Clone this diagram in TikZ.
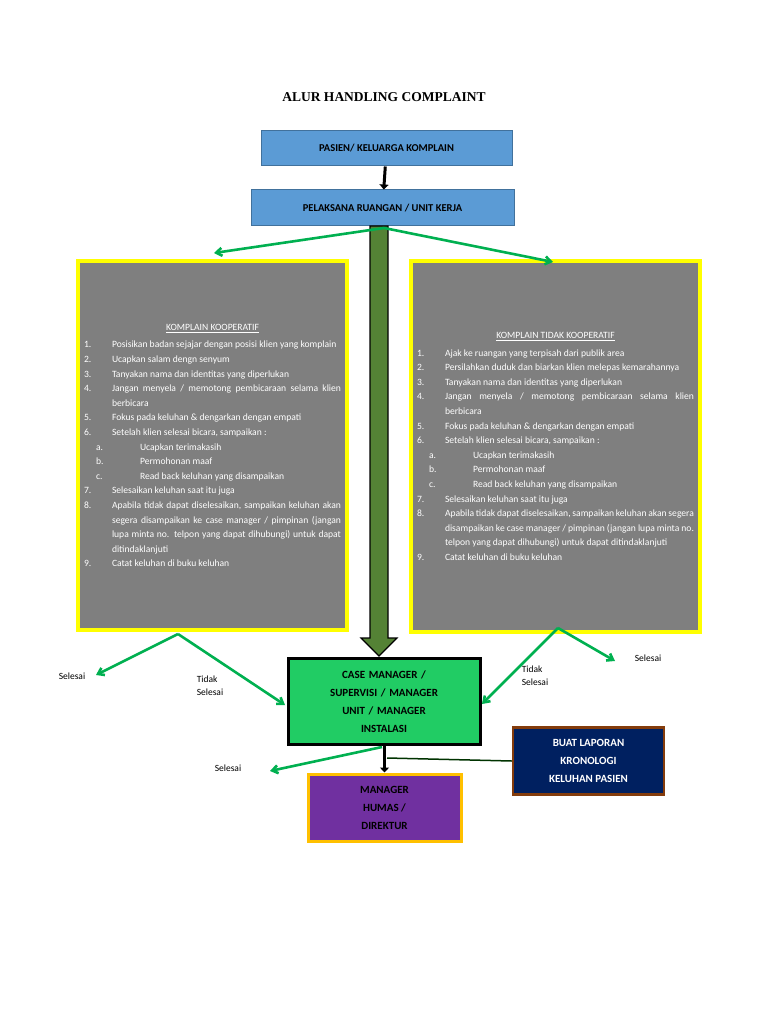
\documentclass[tikz,border=0pt]{standalone}
\usepackage{fontspec}
\setmainfont{Carlito}
\newfontfamily\titlefont{Liberation Serif}
\usepackage{enumitem}
\usetikzlibrary{arrows.meta, positioning, calc}
\definecolor{boxblue}{RGB}{91,155,213}
\definecolor{boxblueline}{RGB}{65,113,156}
\definecolor{listgray}{RGB}{127,127,127}
\definecolor{listyellow}{RGB}{255,255,0}
\definecolor{arrgreen}{RGB}{0,176,80}
\definecolor{shaftgreen}{RGB}{84,130,53}
\definecolor{casegreen}{RGB}{33,204,100}
\definecolor{humaspurple}{RGB}{112,48,160}
\definecolor{humasgold}{RGB}{255,192,0}
\definecolor{lapnavy}{RGB}{0,32,96}
\definecolor{lapbrown}{RGB}{132,60,12}
\newcommand{\lstfont}{\fontsize{9.6}{14.6}\selectfont}
\setlist[enumerate,1]{label=\arabic*.,leftmargin=28pt,labelsep=*,align=left,itemsep=0pt,topsep=1pt,parsep=0pt}
\setlist[enumerate,2]{label=\alph*.,leftmargin=28pt,labelsep=*,align=left,itemsep=0pt,topsep=0pt,parsep=0pt}

\begin{document}
\begin{tikzpicture}[
  x=1pt, y=-1pt,
  font=\bfseries\fontsize{10.5}{13}\selectfont,
  topbox/.style={rectangle, draw=boxblueline, fill=boxblue, line width=1pt, align=center},
  listbox/.style={rectangle, draw=listyellow, fill=listgray, line width=4pt, anchor=north west,
              inner sep=6pt, text=white, font=\lstfont, align=justify},
  grnarr/.style={-{Straight Barb[angle=70:7pt]}, line width=2.6pt, arrgreen},
  blkarr/.style={-{Triangle[length=5pt,width=9pt]}, line width=3pt, black},
  lbl/.style={font=\fontsize{9.5}{13}\selectfont, align=left},
]
\useasboundingbox (0,0) rectangle (768,1024);

\node[font=\titlefont\bfseries\fontsize{13.5}{16}\selectfont] (title) at (384,97) {ALUR HANDLING COMPLAINT};

\node[topbox, minimum width=251, minimum height=35] (pasien) at (386.5,148.5) {PASIEN/ KELUARGA KOMPLAIN};
\node[topbox, minimum width=263, minimum height=36] (pelaksana) at (382.5,208) {PELAKSANA RUANGAN / UNIT KERJA};

% big arrow down the middle
\draw[black, fill=shaftgreen, line width=1.2pt]
  (370,226) -- (388,226) -- (388,638) -- (397,638) -- (379,656) -- (361,638) -- (370,638) -- cycle;

\node[listbox, text width=257, minimum height=369] (koop) at (76,259) {%
{\centering\underline{KOMPLAIN KOOPERATIF}\par}
\begin{enumerate}
\item Posisikan badan sejajar dengan posisi klien yang komplain
\item Ucapkan salam dengn senyum
\item Tanyakan nama dan identitas yang diperlukan
\item Jangan menyela / memotong pembicaraan selama klien berbicara
\item Fokus pada keluhan \& dengarkan dengan empati
\item Setelah klien selesai bicara, sampaikan :
  \begin{enumerate}[leftmargin=28pt,labelindent=-16pt]
  \item Ucapkan terimakasih
  \item Permohonan maaf
  \item Read back keluhan yang disampaikan
  \end{enumerate}
\item Selesaikan keluhan saat itu juga
\item Apabila tidak dapat diselesaikan, sampaikan keluhan akan segera disampaikan ke case manager / pimpinan (jangan lupa minta no. telpon yang dapat dihubungi) untuk dapat ditindaklanjuti
\item Catat keluhan di buku keluhan
\end{enumerate}};

\node[listbox, text width=277, minimum height=371] (tkoop) at (409,259) {%
{\centering\underline{KOMPLAIN TIDAK KOOPERATIF}\par}
\begin{enumerate}
\item Ajak ke ruangan yang terpisah dari publik area
\item Persilahkan duduk dan biarkan klien melepas kemarahannya
\item Tanyakan nama dan identitas yang diperlukan
\item Jangan menyela / memotong pembicaraan selama klien berbicara
\item Fokus pada keluhan \& dengarkan dengan empati
\item Setelah klien selesai bicara, sampaikan :
  \begin{enumerate}[leftmargin=28pt,labelindent=-16pt]
  \item Ucapkan terimakasih
  \item Permohonan maaf
  \item Read back keluhan yang disampaikan
  \end{enumerate}
\item Selesaikan keluhan saat itu juga
\item Apabila tidak dapat diselesaikan, sampaikan keluhan akan segera disampaikan ke case manager / pimpinan (jangan lupa minta no. telpon yang dapat dihubungi) untuk dapat ditindaklanjuti
\item Catat keluhan di buku keluhan
\end{enumerate}};

\node[rectangle, draw=black, fill=casegreen, line width=3pt, minimum width=192, minimum height=86,
      text width=180, align=center, font=\bfseries\fontsize{11}{18}\selectfont] (case) at (384,701.5)
  {CASE MANAGER /\\SUPERVISI / MANAGER\\UNIT / MANAGER\\INSTALASI};
\node[rectangle, draw=humasgold, fill=humaspurple, line width=3pt, minimum width=153, minimum height=67,
      align=center, font=\bfseries\fontsize{11}{18}\selectfont] (humas) at (384.5,807.5)
  {MANAGER\\HUMAS /\\DIREKTUR};
\node[rectangle, draw=lapbrown, fill=lapnavy, line width=2.5pt, minimum width=151, minimum height=67,
      align=center, text=white, font=\bfseries\fontsize{11}{18}\selectfont] (laporan) at (588.5,761)
  {BUAT LAPORAN\\KRONOLOGI\\KELUHAN PASIEN};

\node[lbl] (selesai1) at (72,676) {Selesai};
\node[lbl] (tidak1) at (210,686) {Tidak\\Selesai};
\node[lbl] (tidak2) at (535,676) {Tidak\\Selesai};
\node[lbl] (selesai2) at (648,658) {Selesai};
\node[lbl] (selesai3) at (228,768) {Selesai};

\coordinate (pelfoot) at (384,228);
\coordinate (koopfoot) at (178,634);
\coordinate (tkoopfoot) at (558,628);
\coordinate (casefoot) at (382,747);
\coordinate (lapjoin) at (387,758);

\draw[blkarr] (pasien) -- (pelaksana);
\draw[blkarr] (case.south -| humas.north) -- (humas.north);
\draw[black!60!green!50!black, line width=1.5pt] (laporan.west) -- (lapjoin);

\draw[grnarr] (pelfoot) -- (214,253);
\draw[grnarr] (pelfoot) -- (553,262);
\draw[grnarr] (koopfoot) -- (96,675);
\draw[grnarr] (koopfoot) -- (285,705);
\draw[grnarr] (tkoopfoot) -- (615,661);
\draw[grnarr] (tkoopfoot) -- (482,704);
\draw[grnarr] (casefoot) -- (270,771);
\end{tikzpicture}
\end{document}
